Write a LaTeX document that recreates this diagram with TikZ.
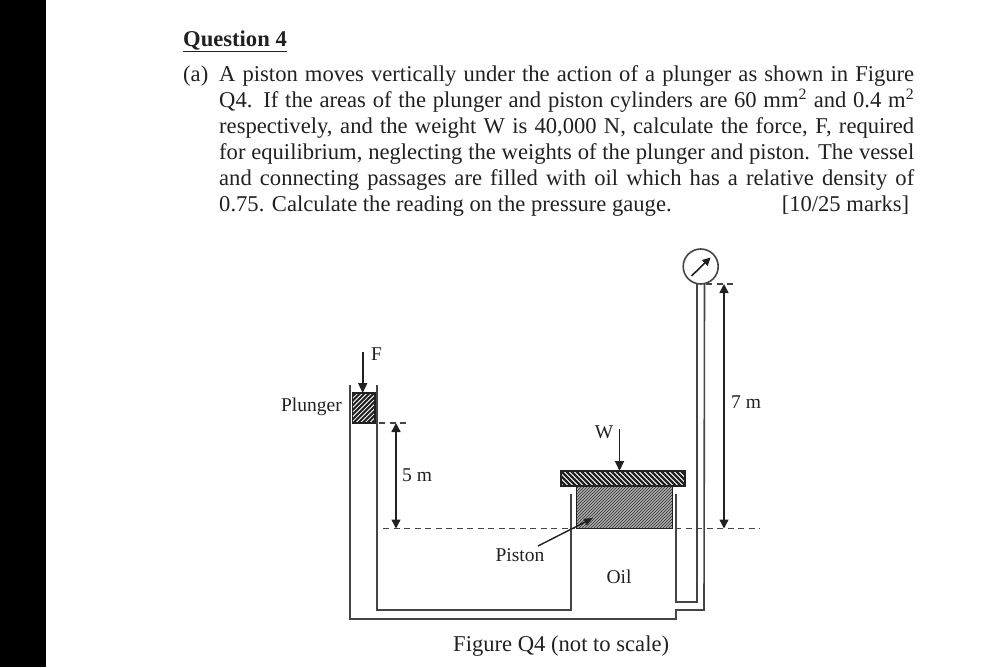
\documentclass[tikz,border=0pt]{standalone}
\usepackage{fontspec}
\setmainfont{Liberation Serif}
\usetikzlibrary{arrows.meta}
\definecolor{ink}{gray}{0.13}
\definecolor{wall}{gray}{0.27}
\tikzset{
  para/.style={anchor=base west,inner sep=0pt,text=ink,font=\fontsize{22.6}{26}\selectfont},
  lab/.style={inner sep=0pt,text=ink,font=\fontsize{19.5}{22}\selectfont},
  vessel/.style={draw=wall,line width=1.6pt},
  dim/.style={draw=ink,line width=1.4pt,{Triangle[length=9pt,width=9pt]}-{Triangle[length=9pt,width=9pt]}},
  force/.style={draw=ink,line width=1.8pt,-{Triangle[length=10pt,width=9pt]}},
  dashline/.style={draw=wall,line width=1.4pt,dash pattern=on 6pt off 4.5pt},
}
\newcommand{\fitline}[1]{\hbox to 695pt{#1}}
\begin{document}
\begin{tikzpicture}[x=1pt,y=-1pt]
\useasboundingbox (0,0) rectangle (1001,667);
\fill[black] (0,0) rectangle (46,667);
% text
\node[para,font=\fontsize{22.6}{26}\selectfont\bfseries] (head) at (183,46) {\underline{Question 4}};
\node[para] (a) at (183,81) {(a)};
\node[para] (l1) at (219,81) {\fitline{A piston moves vertically under the action of a plunger as shown in Figure}};
\node[para] (l2) at (219,107) {\fitline{Q4. If the areas of the plunger and piston cylinders are 60 mm\textsuperscript{2} and 0.4 m\textsuperscript{2}}};
\node[para] (l3) at (219,133) {\fitline{respectively, and the weight W is 40,000 N, calculate the force, F, required}};
\node[para] (l4) at (219,159) {\fitline{for equilibrium, neglecting the weights of the plunger and piston. The vessel}};
\node[para] (l5) at (219,185) {\fitline{and connecting passages are filled with oil which has a relative density of}};
\node[para] (l6) at (219,211) {\hbox to 690pt{0.75. Calculate the reading on the pressure gauge.\hfill[10/25 marks]}};
\node[para] (cap) at (453,651) {Figure Q4 (not to scale)};
% hatched bodies
\begin{scope}
\clip (352.5,393) rectangle (375,423);
\foreach \i in {-40,-35.4,...,40} \draw[ink,line width=2.1pt] (345+\i,430) -- (345+\i+45,385);
\end{scope}
\draw[ink,line width=1.2pt] (352.5,393) rectangle (375,423);
\begin{scope}
\clip (576,486) rectangle (672,528);
\foreach \i in {0,3,...,160} \draw[ink!85,line width=1.1pt] (530+\i,535) -- (530+\i+55,480);
\end{scope}
\draw[ink,line width=.9pt] (576,486) rectangle (672,528);
\begin{scope}
\clip (561,471) rectangle (685,486);
\foreach \i in {0,5,...,160} \draw[ink,line width=2.3pt] (530+\i,465) -- (530+\i+28,493);
\end{scope}
\draw[ink,line width=1.1pt] (561,471) rectangle (685,486);
% named points of the vessel
\coordinate (oTL) at (350,385);
\coordinate (oBL) at (350,619);
\coordinate (oBR) at (676,619);
\coordinate (oJ) at (676,610);
\coordinate (oR) at (704,610);
\coordinate (oT) at (704.5,282);
\coordinate (iTL) at (377,385);
\coordinate (iBL) at (377,610);
\coordinate (iBR) at (571,610);
\coordinate (iT) at (571,494);
\coordinate (rT) at (676,494);
\coordinate (rB) at (676,602);
\coordinate (tB) at (697,602);
\coordinate (tT) at (697,282);
\draw[vessel] (oTL) -- (oBL) -- (oBR) -- (oJ) -- (oR) -- (oT);
\draw[vessel] (iTL) -- (iBL) -- (iBR) -- (iT);
\draw[vessel] (rT) -- (rB) -- (tB) -- (tT);
% gauge
\node[circle,draw=wall,line width=1.6pt,minimum size=35pt,inner sep=0pt,fill=white] (gauge) at (700.7,266.5) {};
\coordinate (gA) at (691.5,276);
\coordinate (gB) at (710.5,257.5);
\draw[force,line width=1.6pt,-{Triangle[length=8pt,width=8pt]}] (gA) -- (gB);
% dashed levels
\coordinate (d1a) at (379,423); \coordinate (d1b) at (410,423);
\coordinate (d2a) at (383,528.5); \coordinate (d2b) at (575,528.5);
\coordinate (d3a) at (675,528.5); \coordinate (d3b) at (760,528.5);
\coordinate (d4a) at (706,284); \coordinate (d4b) at (737,284);
\draw[dashline] (d1a) -- (d1b);
\draw[dashline] (d2a) -- (d2b);
\draw[dashline] (d3a) -- (d3b);
\draw[dashline] (d4a) -- (d4b);
% dimensions
\coordinate (h5t) at (396,423); \coordinate (h5b) at (396,528.5);
\coordinate (h7t) at (724,284); \coordinate (h7b) at (724,528.5);
\draw[dim] (h5t) -- (h5b);
\draw[dim] (h7t) -- (h7b);
% forces
\coordinate (Fa) at (362.7,352); \coordinate (Fb) at (362.7,393);
\coordinate (Wa) at (619.5,429); \coordinate (Wb) at (619.5,471);
\draw[force] (Fa) -- (Fb);
\draw[force] (Wa) -- (Wb);
% labels
\node[lab,anchor=base] (F) at (376.5,360) {F};
\node[lab,anchor=base] (W) at (604,438) {W};
\node[lab,anchor=base east] (plunger) at (342,411) {Plunger};
\node[lab,anchor=base west] (five) at (402,481) {5 m};
\node[lab,anchor=base west] (seven) at (731,408.5) {7 m};
\node[lab,anchor=base] (piston) at (520,561) {Piston};
\node[lab,anchor=base] (oil) at (619,583) {Oil};
\coordinate (pT) at (593,518);
\draw[force,line width=1.4pt,-{Triangle[length=9pt,width=7pt]}] (538,546) -- (pT);
\end{tikzpicture}
\end{document}
